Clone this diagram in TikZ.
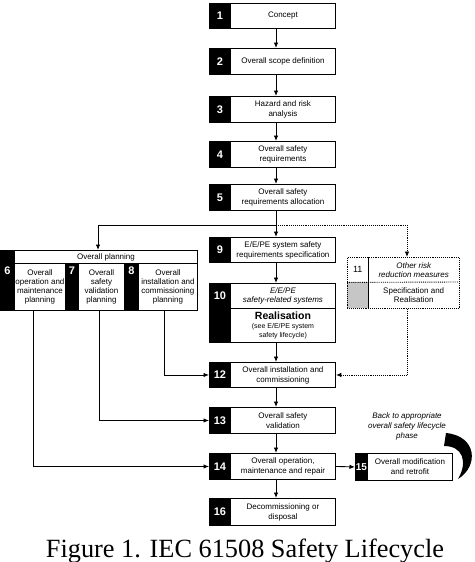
\documentclass[tikz,border=0pt]{standalone}
\usepackage{fontspec}
\setsansfont{Liberation Sans}
\setmainfont{Liberation Serif}
\usetikzlibrary{arrows.meta}
\begin{document}
\begin{tikzpicture}[x=1pt,y=-1pt,
  lw/.style={line width=0.9pt},
  numcell/.style={fill=black,draw=black,lw,text=white,font=\sffamily\bfseries\fontsize{11}{11}\selectfont,anchor=north west,inner sep=0pt},
  txtcell/.style={fill=white,draw=black,lw,align=center,font=\sffamily\fontsize{8}{10}\selectfont,anchor=north west,inner sep=0pt},
  plancell/.style={txtcell,font=\sffamily\fontsize{8}{9}\selectfont},
  numlab/.style={text=white,font=\sffamily\bfseries\fontsize{11}{11}\selectfont,anchor=north,inner sep=0pt},
  arr/.style={lw,-{Latex[length=5.5pt,width=4.5pt]}},
  dotarr/.style={arr,densely dotted},
]
\useasboundingbox (0,0) rectangle (474,562);

% reference x positions
\coordinate (ax) at (276,0);
\coordinate (xp) at (98,0);
\coordinate (x6) at (33,0);
\coordinate (x7) at (99,0);
\coordinate (x8) at (164,0);
\coordinate (x11) at (407,0);
\coordinate (j) at (276,225);

% main column
\node[numcell,minimum width=21pt,minimum height=25pt] (n1) at (209,3) {1};
\node[txtcell,minimum width=105pt,minimum height=25pt] (s1) at (230,3) {Concept};
\node[numcell,minimum width=21pt,minimum height=26pt] (n2) at (209,48) {2};
\node[txtcell,minimum width=105pt,minimum height=26pt] (s2) at (230,48) {Overall scope definition};
\node[numcell,minimum width=21pt,minimum height=26pt] (n3) at (209,96) {3};
\node[txtcell,minimum width=105pt,minimum height=26pt] (s3) at (230,96) {Hazard and risk\\analysis};
\node[numcell,minimum width=21pt,minimum height=26pt] (n4) at (209,141) {4};
\node[txtcell,minimum width=105pt,minimum height=26pt] (s4) at (230,141) {Overall safety\\requirements};
\node[numcell,minimum width=21pt,minimum height=26pt] (n5) at (209,184) {5};
\node[txtcell,minimum width=105pt,minimum height=26pt] (s5) at (230,184) {Overall safety\\requirements allocation};
\node[numcell,minimum width=21pt,minimum height=25pt] (n9) at (209,237) {9};
\node[txtcell,minimum width=105pt,minimum height=25pt] (s9) at (230,237) {E/E/PE system safety\\requirements specification};
\node[numcell,minimum width=21pt,minimum height=25pt] (n10) at (209,283) {10};
\node[txtcell,minimum width=105pt,minimum height=25pt,font=\sffamily\itshape\fontsize{8}{9}\selectfont] (s10) at (230,283) {E/E/PE\\safety-related systems};
\node[numcell,minimum width=21pt,minimum height=34pt] (n10r) at (209,308) {};
\node[txtcell,minimum width=105pt,minimum height=34pt,font=\sffamily\fontsize{7}{9}\selectfont] (s10r) at (230,308) {{\bfseries\fontsize{10.5}{11}\selectfont Realisation}\\(see E/E/PE system\\safety lifecycle)};
\node[numcell,minimum width=21pt,minimum height=25pt] (n12) at (209,362) {12};
\node[txtcell,minimum width=105pt,minimum height=25pt] (s12) at (230,362) {Overall installation and\\commissioning};
\node[numcell,minimum width=21pt,minimum height=26pt] (n13) at (209,407) {13};
\node[txtcell,minimum width=105pt,minimum height=26pt] (s13) at (230,407) {Overall safety\\validation};
\node[numcell,minimum width=21pt,minimum height=26pt] (n14) at (209,453) {14};
\node[txtcell,minimum width=105pt,minimum height=26pt] (s14) at (230,453) {Overall operation,\\maintenance and repair};
\node[numcell,minimum width=21pt,minimum height=27pt] (n16) at (209,498) {16};
\node[txtcell,minimum width=105pt,minimum height=27pt] (s16) at (230,498) {Decommissioning or\\disposal};

% box 15
\node[numcell,minimum width=12pt,minimum height=27pt,font=\sffamily\bfseries\fontsize{10}{10}\selectfont] (n15) at (355,453) {15};
\node[txtcell,minimum width=85pt,minimum height=27pt] (s15) at (367,453) {Overall modification\\and retrofit};

% planning group
\node[numcell,minimum width=14pt,minimum height=13pt] (hb) at (0,250) {};
\node[txtcell,minimum width=183pt,minimum height=13pt] (hdr) at (14,250) {Overall planning};
\node[numcell,minimum width=14pt,minimum height=47pt] (n6) at (0,263) {};
\node[numlab] (l6) at ([yshift=-4pt]n6.north) {6};
\node[plancell,minimum width=51pt,minimum height=47pt] (p6) at (14,263) {Overall\\operation and\\maintenance\\planning};
\node[numcell,minimum width=13pt,minimum height=47pt] (n7) at (65,263) {};
\node[numlab] (l7) at ([yshift=-4pt]n7.north) {7};
\node[plancell,minimum width=46pt,minimum height=47pt] (p7) at (78,263) {Overall\\safety\\validation\\planning};
\node[numcell,minimum width=14pt,minimum height=47pt] (n8) at (124,263) {};
\node[numlab] (l8) at ([yshift=-4pt]n8.north) {8};
\node[plancell,minimum width=59pt,minimum height=47pt] (p8) at (138,263) {Overall\\installation and\\commissioning\\planning};

% box 11
\node[anchor=north west,minimum width=21pt,minimum height=25pt,inner sep=0pt,font=\sffamily\fontsize{9}{9}\selectfont] (n11) at (347,257) {11};
\node[anchor=north west,fill=gray!45,minimum width=21pt,minimum height=26pt,inner sep=0pt] (g11) at (347,282) {};
\node[anchor=north west,minimum width=91pt,minimum height=25pt,inner sep=0pt,align=center,font=\sffamily\itshape\fontsize{8}{9}\selectfont] (t11) at (368,257) {Other risk\\reduction measures};
\node[anchor=north west,minimum width=91pt,minimum height=26pt,inner sep=0pt,align=center,font=\sffamily\fontsize{8}{9}\selectfont] (b11) at (368,282) {Specification and\\Realisation};
\node[anchor=north west,minimum width=112pt,minimum height=51pt,inner sep=0pt,draw,lw,densely dotted] (o11) at (347,257) {};
\draw[lw,densely dotted] (n11.south west) -- (b11.north east);
\draw[lw] (t11.north west) -- (b11.south west);

% connectors main column
\draw[arr] (s1.south -| ax) -- (s2.north -| ax);
\draw[arr] (s2.south -| ax) -- (s3.north -| ax);
\draw[arr] (s3.south -| ax) -- (s4.north -| ax);
\draw[arr] (s4.south -| ax) -- (s5.north -| ax);
\draw[dotarr] (j) -| (o11.north -| x11);
\draw[arr] (s5.south -| ax) -- (s9.north -| ax);
\draw[arr] (j) -| (hdr.north -| xp);
\draw[arr] (s9.south -| ax) -- (s10.north -| ax);
\draw[arr] (s10r.south -| ax) -- (s12.north -| ax);
\draw[arr] (s12.south -| ax) -- (s13.north -| ax);
\draw[arr] (s13.south -| ax) -- (s14.north -| ax);
\draw[arr] (s14.south -| ax) -- (s16.north -| ax);
\draw[dotarr] (o11.south -| x11) |- (s12.east);
\draw[arr] (p8.south -| x8) |- (n12.west);
\draw[arr] (p7.south -| x7) |- (n13.west);
\draw[arr] (p6.south -| x6) |- (n14.west);
\draw[arr] (s14.east) -- (n15.west);

% back-to text and curved arrow
\node[align=center,inner sep=0pt,font=\sffamily\itshape\fontsize{8}{10}\selectfont] (back) at (407,426) {Back to appropriate\\overall safety lifecycle\\phase};
\fill (458,479) .. controls (479,466) and (477,436) .. (446,433) -- (444,446) .. controls (463,446) and (468,462) .. (458,479) -- cycle;

% caption
\node[anchor=base,inner sep=0pt,font=\fontsize{26.3}{28}\selectfont] (cap) at (245,557) {Figure 1. IEC 61508 Safety Lifecycle};
\end{tikzpicture}
\end{document}
